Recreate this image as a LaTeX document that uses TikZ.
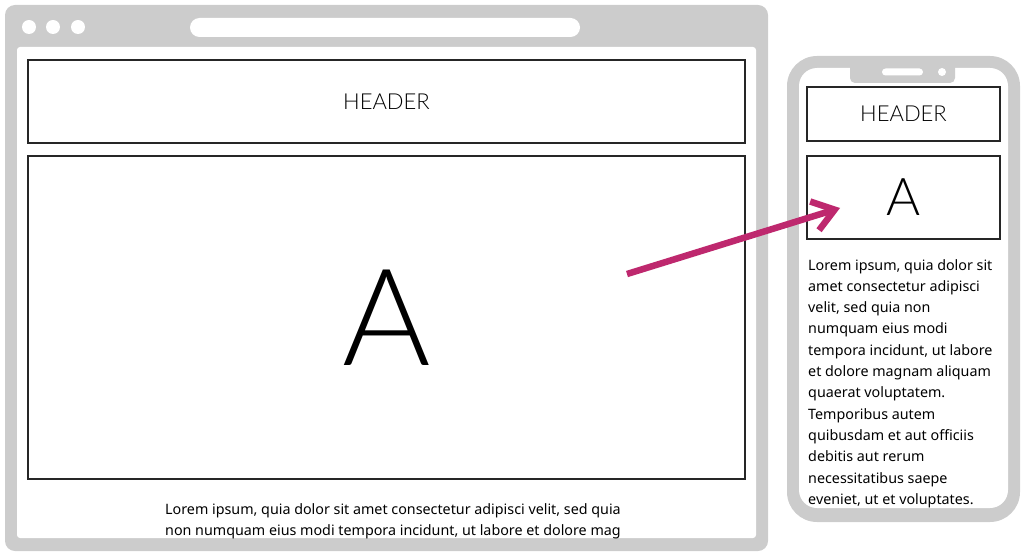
\documentclass[tikz,border=0pt]{standalone}
\usepackage{fontspec}
\setmainfont{Noto Sans}
\newfontfamily\thinfont{Lato Light}
\usetikzlibrary{arrows.meta}
\definecolor{color_frame}{RGB}{204, 204, 204}
\definecolor{color_arrow}{RGB}{190, 40, 110}

\begin{document}
\begin{tikzpicture}[
    x=1pt, y=-1pt,
    wirebox/.style={draw=black!85,line width=1.2pt,inner sep=0pt},
    bodytext/.style={font=\fontsize{14.3}{21.3}\selectfont,align=left,inner sep=0pt,anchor=north west},
    movearrow/.style={color_arrow,line width=6.5pt,-{Straight Barb[length=21pt,width=30pt]}}
]
    % picture is 1024 x 556, one unit per pixel
    \useasboundingbox (0,0) rectangle (1024,556);

    % desktop browser frame
    \fill[color_frame,rounded corners=10pt] (5,5) rectangle (768,551);
    \fill[white,rounded corners=3pt] (17,47) rectangle (756,538);
    \foreach \x in { 29, 53, 78 }{
        \fill[white] (\x,27) circle(7pt);
    }
    \fill[white,rounded corners=9.5pt] (190,18) rectangle (580,37);

    \node[wirebox,minimum width=717pt,minimum height=83pt,font=\thinfont\fontsize{22}{26}\selectfont]
        (desk_header) at (386.5,101.5) {HEADER};
    \node[wirebox,minimum width=717pt,minimum height=323pt,font=\thinfont\fontsize{135}{140}\selectfont]
        (desk_a) at (386.5,317.5) {A};
    \node[bodytext] (desk_text) at (165,503)
        {Lorem ipsum, quia dolor sit amet consectetur adipisci velit, sed quia\\
         non numquam eius modi tempora incidunt, ut labore et dolore mag};

    % phone frame
    \fill[color_frame,rounded corners=30pt] (787,56) rectangle (1020,522);
    \fill[white,rounded corners=18pt] (799,68) rectangle (1008,508);
    \fill[color_frame,rounded corners=5pt] (850,60) rectangle (955,83);
    \fill[white,rounded corners=3.5pt] (882,68.5) rectangle (923,75.5);
    \fill[white] (942,72) circle(4pt);

    \node[wirebox,minimum width=193pt,minimum height=54pt,font=\thinfont\fontsize{22}{26}\selectfont]
        (phone_header) at (903.5,114) {HEADER};
    \node[wirebox,minimum width=193pt,minimum height=83pt,font=\thinfont\fontsize{52}{56}\selectfont]
        (phone_a) at (903.5,197.5) {A};
    \node[bodytext] (phone_text) at (808,259)
        {Lorem ipsum, quia dolor sit\\
         amet consectetur adipisci\\
         velit, sed quia non\\
         numquam eius modi\\
         tempora incidunt, ut labore\\
         et dolore magnam aliquam\\
         quaerat voluptatem.\\
         Temporibus autem\\
         quibusdam et aut officiis\\
         debitis aut rerum\\
         necessitatibus saepe\\
         eveniet, ut et voluptates.};

    % content A moves into the phone
    \coordinate (arrow_from) at (627,274);
    \coordinate (arrow_to) at (840,208);
    \draw[movearrow] (arrow_from) -- (arrow_to);

\end{tikzpicture}
\end{document}
